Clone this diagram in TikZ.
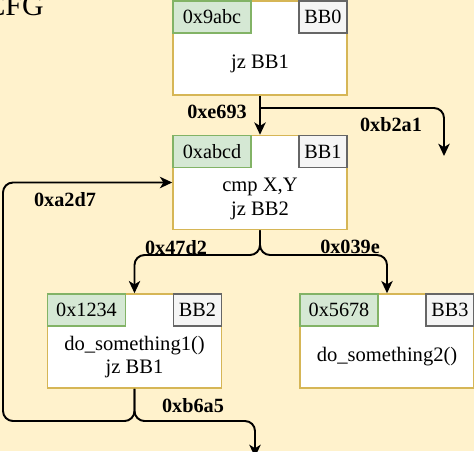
\documentclass[tikz,border=0pt]{standalone}
\usepackage{fontspec}
\setmainfont{Liberation Serif}
\usetikzlibrary{arrows.meta, positioning}
\definecolor{BgYellow}{HTML}{FFF2CC}
\definecolor{BoxLine}{HTML}{D6B656}
\definecolor{TagGreen}{HTML}{D5E8D4}
\definecolor{TagGreenLine}{HTML}{82B366}
\definecolor{TagGray}{HTML}{F5F5F5}
\definecolor{TagGrayLine}{HTML}{666666}
\tikzset{
  bb/.style={
    rectangle, fill=white, draw=BoxLine, line width=0.9pt,
    minimum width=3.48cm, minimum height=1.88cm, inner sep=0pt
  },
  addr/.style={
    rectangle, fill=TagGreen, draw=TagGreenLine, line width=0.9pt,
    minimum width=1.56cm, minimum height=0.64cm, inner sep=0pt,
    font=\fontsize{11.5}{13}\selectfont
  },
  bbid/.style={
    rectangle, fill=TagGray, draw=TagGrayLine, line width=0.9pt,
    minimum width=0.96cm, minimum height=0.64cm, inner sep=0pt,
    font=\fontsize{11.5}{13}\selectfont
  },
  code/.style={align=center, inner sep=0pt, font=\fontsize{11.7}{13.6}\selectfont},
  lbl/.style={inner sep=0pt, font=\bfseries\fontsize{11.5}{13}\selectfont},
  arr/.style={-{Stealth[length=7pt, width=6.5pt, inset=2pt]}, line width=1.1pt, rounded corners=0.2cm},
}

\begin{document}
\begin{tikzpicture}

\clip (0,0) rectangle (9.48,-9.02);
\fill[BgYellow] (0,0) rectangle (9.48,-9.02);

% Title (cut at the left and top edges)
\node[anchor=base east, inner sep=0pt, font=\fontsize{17}{19}\selectfont] (title) at (0.88,-0.3) {CFG};

% BB0 (top)
\node[bb] at (5.2,-0.96) (bb0) {};
\node[addr, anchor=north west] at (bb0.north west) (bb0addr) {0x9abc};
\node[bbid, anchor=north east] at (bb0.north east) (bb0id) {BB0};
\node[code] at ([yshift=-0.32cm]bb0.center) (bb0code) {jz BB1};

% BB1 (middle)
\node[bb] at (5.2,-3.65) (bb1) {};
\node[addr, anchor=north west] at (bb1.north west) (bb1addr) {0xabcd};
\node[bbid, anchor=north east] at (bb1.north east) (bb1id) {BB1};
\node[code] at ([yshift=-0.32cm]bb1.center) (bb1code) {cmp X,Y\\jz BB2};

% BB2 (bottom left)
\node[bb] at (2.69,-6.82) (bb2) {};
\node[addr, anchor=north west] at (bb2.north west) (bb2addr) {0x1234};
\node[bbid, anchor=north east] at (bb2.north east) (bb2id) {BB2};
\node[code] at ([yshift=-0.32cm]bb2.center) (bb2code) {do\_something1()\\jz BB1};

% BB3 (bottom right, cut at the right edge)
\node[bb] at (7.74,-6.82) (bb3) {};
\node[addr, anchor=north west] at (bb3.north west) (bb3addr) {0x5678};
\node[bbid, anchor=north east] at (bb3.north east) (bb3id) {BB3};
\node[code] at ([yshift=-0.32cm]bb3.center) (bb3code) {do\_something2()};

% Split points and free ends
\coordinate (split0) at (5.2,-2.16);
\coordinate (out0) at (8.88,-3.12);
\coordinate (split1) at (5.2,-5.1);
\coordinate (split2) at (2.69,-8.42);
\coordinate (loopL) at (0.06,-8.42);
\coordinate (out2) at (5.1,-9.14);

% Edges
\draw[arr] (bb0) -- (bb1);
\draw[arr] (split0) -| (out0);
\draw[arr] (bb1.south) -- (split1) -| (bb2.north);
\draw[arr] (bb1.south) -- (split1) -| (bb3.north);
\draw[arr] (bb2.south) -- (split2) -- (loopL) |- (bb1.west);
\draw[arr] (bb2.south) -- (split2) -| (out2);

% Edge labels
\node[lbl] at (4.34,-2.24) (lblE693) {0xe693};
\node[lbl] at (7.82,-2.5) (lblB2A1) {0xb2a1};
\node[lbl] at (3.52,-4.96) (lbl47D2) {0x47d2};
\node[lbl] at (7.0,-4.94) (lbl039E) {0x039e};
\node[lbl] at (1.3,-4.0) (lblA2D7) {0xa2d7};
\node[lbl] at (3.86,-8.12) (lblB6A5) {0xb6a5};

\end{tikzpicture}
\end{document}
